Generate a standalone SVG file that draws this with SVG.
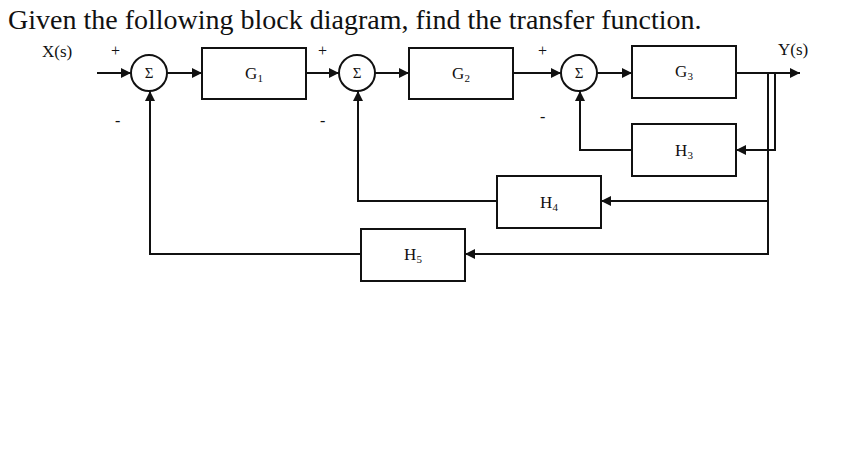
<svg xmlns="http://www.w3.org/2000/svg" width="847" height="460" viewBox="0 0 847 460">
<style>
.b{fill:none;stroke:#111;stroke-width:2}
.l{fill:none;stroke:#111;stroke-width:2}
text{font-family:"Liberation Serif",serif;fill:#111}
.t{font-size:17px;text-anchor:middle}
.s{font-size:15px;text-anchor:middle}
.sub{font-size:11px}
</style>
<defs><marker id="a" viewBox="0 0 10 10" refX="10" refY="5" markerWidth="5" markerHeight="5" orient="auto"><path d="M0,0L10,5L0,10z" fill="#111"/></marker></defs>
<rect width="847" height="460" fill="#fff"/>
<text x="8" y="29" style="font-size:28px">Given the following block diagram, find the transfer function.</text>
<g id="sum1"><circle class="b" cx="149" cy="73" r="18"/><text class="s" x="149" y="78">Σ</text></g>
<g id="G1"><rect class="b" x="202" y="48" width="104" height="51"/><text class="t" x="254" y="79">G<tspan class="sub" dy="3">1</tspan></text></g>
<g id="sum2"><circle class="b" cx="357" cy="73" r="18"/><text class="s" x="357" y="78">Σ</text></g>
<g id="G2"><rect class="b" x="409" y="48" width="104" height="51"/><text class="t" x="461" y="79">G<tspan class="sub" dy="3">2</tspan></text></g>
<g id="sum3"><circle class="b" cx="579" cy="73" r="18"/><text class="s" x="579" y="78">Σ</text></g>
<g id="G3"><rect class="b" x="632" y="46" width="104" height="52"/><text class="t" x="684" y="77">G<tspan class="sub" dy="3">3</tspan></text></g>
<g id="H3"><rect class="b" x="632" y="124" width="104" height="52"/><text class="t" x="684" y="156">H<tspan class="sub" dy="3">3</tspan></text></g>
<g id="H4"><rect class="b" x="497" y="176" width="104" height="52"/><text class="t" x="549" y="208">H<tspan class="sub" dy="3">4</tspan></text></g>
<g id="H5"><rect class="b" x="361" y="229" width="104" height="52"/><text class="t" x="413" y="260">H<tspan class="sub" dy="3">5</tspan></text></g>
<g id="connectors">
<path class="l" d="M97,73H131" marker-end="url(#a)"/>
<path class="l" d="M167,73H202" marker-end="url(#a)"/>
<path class="l" d="M306,73H339" marker-end="url(#a)"/>
<path class="l" d="M375,73H409" marker-end="url(#a)"/>
<path class="l" d="M513,73H561" marker-end="url(#a)"/>
<path class="l" d="M597,73H632" marker-end="url(#a)"/>
<path class="l" d="M736,73H800" marker-end="url(#a)"/>
<path class="l" d="M775,73V150H736" marker-end="url(#a)"/>
<path class="l" d="M632,150H580V91" marker-end="url(#a)"/>
<path class="l" d="M768,73V254H465" marker-end="url(#a)"/>
<path class="l" d="M768,201H601" marker-end="url(#a)"/>
<path class="l" d="M497,201H358V91" marker-end="url(#a)"/>
<path class="l" d="M361,254H150V91" marker-end="url(#a)"/>
</g>
<g id="labels" style="font-size:16px">
<text x="42" y="57" style="font-size:17px">X(s)</text>
<text x="778" y="55" style="font-size:17px">Y(s)</text>
<text x="111" y="56">+</text>
<text x="115" y="126">-</text>
<text x="318" y="56">+</text>
<text x="320" y="126">-</text>
<text x="538" y="56">+</text>
<text x="540" y="122">-</text>
</g>
</svg>
